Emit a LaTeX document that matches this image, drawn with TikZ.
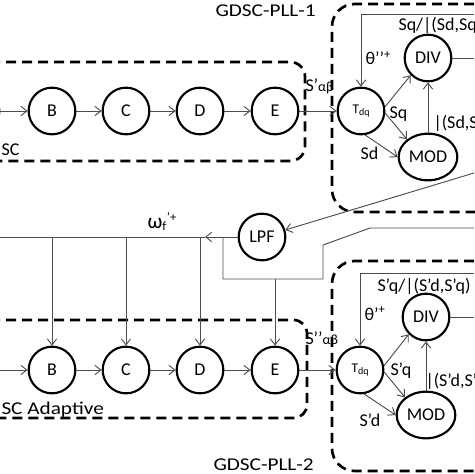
\documentclass[tikz,border=0pt]{standalone}
\usepackage{fontspec}
\setmainfont{Carlito}
\newfontfamily\widefont{Carlito}[FakeStretch=1.18]
\usetikzlibrary{arrows.meta,shapes.geometric}

\tikzset{every picture/.style={line width=0.75pt}}
\tikzset{
  blk/.style={circle,draw,line width=1.6pt,minimum size=35pt,inner sep=0pt,font=\fontsize{13.5}{15}\selectfont},
  modblk/.style={ellipse,draw,line width=1.6pt,minimum width=44pt,minimum height=35pt,inner sep=0pt,font=\fontsize{13.5}{15}\selectfont},
  sig/.style={draw=black!70,line width=0.7pt},
  arr/.style={sig,-{Straight Barb[length=4.5pt,width=7pt]}},
  dashbox/.style={line width=2pt,dash pattern=on 7.5pt off 4.5pt},
  lbl/.style={inner sep=0pt,anchor=base west,font=\fontsize{13.5}{15}\selectfont},
  ttl/.style={lbl,font=\fontsize{13.5}{15}\widefont},
}
\newcommand{\tdq}{{\fontsize{10}{11}\selectfont T}\raisebox{-1pt}{\fontsize{7.5}{8}\selectfont dq}}

\begin{document}
\begin{tikzpicture}[x=0.75pt,y=0.75pt,yscale=-1,xscale=1]
\useasboundingbox (0,0) rectangle (474,474);

%Dashed boxes
\draw[dashbox,rounded corners=11pt] (-10,62) -- (305,62) -- (305,161) -- (-10,161);
\draw[dashbox,rounded corners=17pt] (490,4) -- (332,4) -- (332,212) -- (490,212);
\draw[dashbox,rounded corners=10pt] (-10,320) -- (307,320) -- (307,418) -- (-10,418);
\draw[dashbox,rounded corners=17pt] (490,261) -- (332,261) -- (332,471) -- (490,471);

%Blocks, upper chain
\node[blk] (A1) at (-24,111) {};
\node[blk] (B1) at (52,111) {B};
\node[blk] (C1) at (126,111) {C};
\node[blk] (D1) at (200,111) {D};
\node[blk] (E1) at (275,111) {E};
\node[blk] (T1) at (361,111) {\tdq};
\node[blk] (DIV1) at (428,58) {DIV};
\node[modblk] (MOD1) at (428,157) {MOD};

%Blocks, lower chain
\node[blk] (B2) at (52,370) {B};
\node[blk] (C2) at (126,370) {C};
\node[blk] (D2) at (200,370) {D};
\node[blk] (E2) at (275,370) {E};
\node[blk] (T2) at (360,370) {\tdq};
\node[blk] (DIV2) at (426,317) {DIV};
\node[modblk] (MOD2) at (426,415) {MOD};

\node[blk] (LPF) at (262,237) {LPF};

%Free ends and bends
\coordinate (in2) at (0,370);
\coordinate (fb1) at (474,14);
\coordinate (fb2) at (474,273);
\coordinate (out1) at (474,58);
\coordinate (out2) at (474,317);
\coordinate (m1) at (474,173);
\coordinate (tipL) at (205,237);
\coordinate (w0) at (0,237);
\coordinate (jB) at (52,237);
\coordinate (jC) at (126,237);
\coordinate (jD) at (200,237);
\coordinate (jL) at (223,237);
\coordinate (kE) at (275,279);
\coordinate (k1) at (323,279);
\coordinate (k2) at (323,245);
\coordinate (k3) at (370,228);
\coordinate (k4) at (474,228);

%Upper connectors
\draw[arr] (A1) -- (B1);
\draw[arr] (B1) -- (C1);
\draw[arr] (C1) -- (D1);
\draw[arr] (D1) -- (E1);
\draw[arr] (E1) -- (T1);
\draw[arr] (T1.10) -- (DIV1.-135);
\draw[arr] (T1.-5) -- (MOD1.140);
\draw[arr] (T1.-80) -- (MOD1.west);
\draw[arr] (MOD1) -- (DIV1);
\draw[sig] (DIV1) -- (out1);
\draw[arr] (fb1) -| (T1);

%Middle connectors
\draw[arr] (m1) -- (LPF);
\draw[arr] (LPF) -- (tipL);
\draw[sig] (tipL) -- (w0);
\draw[arr] (jB) -- (B2);
\draw[arr] (jC) -- (C2);
\draw[arr] (jD) -- (D2);
\draw[sig] (jL) |- (k1) -- (k2) -- (k3) -- (k4);
\draw[arr] (kE) -- (E2);

%Lower connectors
\draw[arr] (in2) -- (B2);
\draw[arr] (B2) -- (C2);
\draw[arr] (C2) -- (D2);
\draw[arr] (D2) -- (E2);
\draw[arr] (E2) -- (T2);
\draw[arr] (T2.10) -- (DIV2.-135);
\draw[arr] (T2.-5) -- (MOD2.140);
\draw[arr] (T2.-80) -- (MOD2.west);
\draw[arr] (MOD2) -- (DIV2);
\draw[sig] (DIV2) -- (out2);
\draw[arr] (fb2) -| (T2);

% Text Node
\node[ttl] (t1) at (215,17) {GDSC-PLL-1};
\node[ttl] (t2) at (213,470) {GDSC-PLL-2};
\node[lbl] (sc1) at (1,156) {SC};
\node[ttl] (sc2) at (1,414) {SC Adaptive};
\node[lbl] (wf) at (147,228) {{\fontsize{16}{17}\selectfont ω}\textsubscript{f}\textsuperscript{’+}};
% Text Node
\node[lbl] (sab1) at (305,92) {S’{\fontsize{10.5}{12}\selectfont αβ}};
\node[lbl] (th1) at (365,65) {θ’’\textsuperscript{+}};
\node[lbl] (sq1) at (389,118) {Sq};
\node[lbl] (sd1) at (360,160) {Sd};
\node[lbl] (dv1) at (398,31) {Sq/|(Sd,Sq)|};
\node[lbl] (md1) at (433,128) {|(Sd,Sq)|};
% Text Node
\node[lbl] (sab2) at (305,344) {S’’{\fontsize{10.5}{12}\selectfont αβ}};
\node[lbl] (th2) at (364,320) {θ’\textsuperscript{+}};
\node[lbl] (sq2) at (390,375) {S’q};
\node[lbl] (sd2) at (359,426) {S’d};
\node[lbl] (dv2) at (377,291) {S’q/|(S’d,S’q)};
\node[lbl] (md2) at (425,386) {|(S’d,S’q)|};
\end{tikzpicture}
\end{document}
